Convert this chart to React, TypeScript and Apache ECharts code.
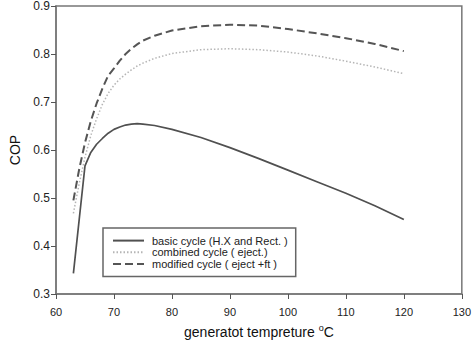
import React, { useEffect, useRef } from "react";
import * as echarts from "echarts";

const temps = [63, 64, 65, 66, 67, 68, 69, 70, 71, 72, 73, 74, 75, 77, 80, 85, 90, 95, 100, 105, 110, 115, 120];
const basicCycle = [0.343, 0.455, 0.567, 0.595, 0.612, 0.624, 0.635, 0.643, 0.648, 0.652, 0.654, 0.655, 0.654, 0.651, 0.643, 0.626, 0.605, 0.582, 0.558, 0.534, 0.510, 0.484, 0.455];
const combinedCycle = [0.468, 0.53, 0.585, 0.63, 0.665, 0.695, 0.718, 0.735, 0.748, 0.758, 0.767, 0.775, 0.781, 0.791, 0.801, 0.809, 0.811, 0.809, 0.804, 0.796, 0.785, 0.773, 0.759];
const modifiedCycle = [0.495, 0.56, 0.615, 0.66, 0.697, 0.728, 0.755, 0.77, 0.786, 0.80, 0.811, 0.82, 0.828, 0.838, 0.849, 0.858, 0.861, 0.859, 0.852, 0.843, 0.833, 0.821, 0.806];
const seriesNames = ["basic cycle (H.X and Rect. )", "combined cycle ( eject.)", "modified cycle ( eject +ft )"];

const FONT = "Liberation Sans, Arial, sans-serif";

export default function App() {
  const ref = useRef<HTMLDivElement>(null);
  useEffect(() => {
    if (!ref.current) return;
    const chart = echarts.init(ref.current, undefined, { renderer: "svg" });
    const pairs = (ys: number[]) => temps.map((t, i) => [t, ys[i]]);
    chart.setOption({
      animation: false,
      backgroundColor: "#ffffff",
      textStyle: { fontFamily: FONT },
      grid: { left: 50, right: 11, top: 6, bottom: 59, show: true, borderColor: "#777", borderWidth: 1.5 },
      legend: {
        left: 103,
        top: 228,
        orient: "vertical",
        padding: [7, 8, 7, 9],
        itemWidth: 31,
        itemHeight: 14,
        itemGap: 0.5,
        borderColor: "#666",
        borderWidth: 1.5,
        itemStyle: { opacity: 0 },
        textStyle: { fontSize: 11, color: "#222", fontFamily: FONT, padding: [0, 0, 0, 3] },
        data: seriesNames,
      },
      xAxis: {
        type: "value",
        min: 60,
        max: 130,
        interval: 10,
        name: "generatot tempreture {sup|o}C",
        nameLocation: "middle",
        nameGap: 29,
        nameTextStyle: {
          fontSize: 14,
          color: "#111",
          fontFamily: FONT,
          rich: { sup: { fontSize: 9, verticalAlign: "top", padding: [0, 0, 8, 0], color: "#111" } },
        },
        axisLine: { lineStyle: { color: "#777", width: 1.5 } },
        axisTick: { inside: false, length: 5, lineStyle: { color: "#555" } },
        axisLabel: { fontSize: 11, color: "#222", margin: 12, fontFamily: FONT },
        splitLine: { show: false },
      },
      yAxis: {
        type: "value",
        min: 0.3,
        max: 0.9,
        interval: 0.1,
        name: "COP",
        nameLocation: "middle",
        nameGap: 34,
        nameRotate: 90,
        nameTextStyle: { fontSize: 14, color: "#111", fontFamily: FONT },
        axisLine: { show: true, lineStyle: { color: "#777", width: 1.5 } },
        axisTick: { show: true, inside: false, length: 5, lineStyle: { color: "#555" } },
        axisLabel: { fontSize: 12, color: "#222", margin: 6, fontFamily: FONT, formatter: (v: number) => v.toFixed(1) },
        splitLine: { show: false },
      },
      series: [
        {
          name: seriesNames[0],
          type: "line",
          data: pairs(basicCycle),
          symbol: "none",
          lineStyle: { color: "#505050", width: 1.7, type: "solid" },
          itemStyle: { color: "#505050" },
        },
        {
          name: seriesNames[1],
          type: "line",
          data: pairs(combinedCycle),
          symbol: "none",
          lineStyle: { color: "#b5b5b5", width: 1.5, type: [1.5, 2] },
          itemStyle: { color: "#b5b5b5" },
        },
        {
          name: seriesNames[2],
          type: "line",
          data: pairs(modifiedCycle),
          symbol: "none",
          lineStyle: { color: "#555", width: 2, type: [8, 4] },
          itemStyle: { color: "#555" },
        },
      ],
    });
    return () => chart.dispose();
  }, []);
  return <div ref={ref} style={{ width: 474, height: 353, position: "absolute", left: 0, top: 0 }} />;
}
